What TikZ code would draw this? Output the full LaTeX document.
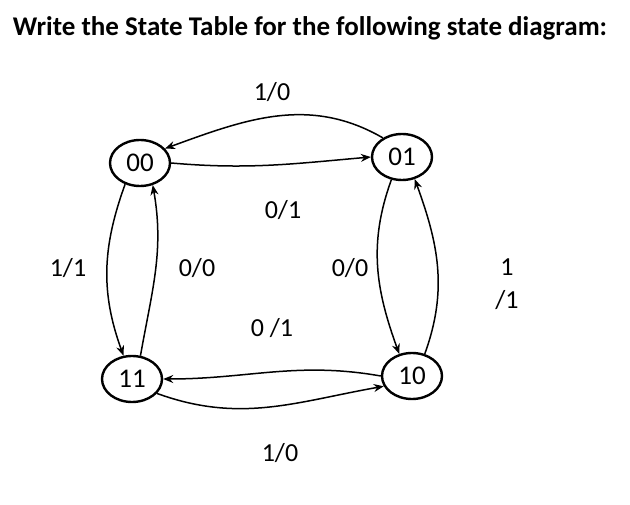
\documentclass[tikz,border=0pt]{standalone}
\usepackage{fontspec}
\setmainfont{Carlito}
\usetikzlibrary{arrows.meta,shapes.geometric}
\begin{document}
\begin{tikzpicture}[x=1pt,y=-1pt,
  st/.style={draw,line width=2.4pt,ellipse,minimum width=60pt,minimum height=46pt,inner sep=0pt,font=\fontsize{27}{27}\selectfont},
  lbl/.style={font=\fontsize{26}{26}\selectfont},
  ar/.style={-{Stealth[length=10pt,width=8pt]},line width=1.5pt}]
\useasboundingbox (0,0) rectangle (630,505);
\node[font=\bfseries\fontsize{27}{27}\selectfont] (t) at (310,28) {Write the State Table for the following state diagram:};
\node[st] (s00) at (140,163) {00};
\node[st] (s01) at (402,157) {01};
\node[st] (s11) at (132,379) {11};
\node[st] (s10) at (412,376) {10};
\draw[ar] (s01.135) to[out=150,in=20] (s00.30);
\draw[ar] (s00.east) to[out=-5,in=185] (s01.west);
\draw[ar] (s00.235) to[out=250,in=110] (s11.110);
\draw[ar] (s11.70) to[out=80,in=280] (s00.300);
\draw[ar] (s01.245) to[out=250,in=110] (s10.120);
\draw[ar] (s10.60) to[out=70,in=290] (s01.300);
\draw[ar] (s10.west) to[out=170,in=0] (s11.east);
\draw[ar] (s11.330) to[out=-20,in=190] (s10.200);
\node[lbl] (l1) at (272,92) {1/0};
\node[lbl] (l2) at (283,210) {0/1};
\node[lbl] (l3) at (68,268) {1/1};
\node[lbl] (l4) at (197,268) {0/0};
\node[lbl] (l5) at (350,268) {0/0};
\node[lbl] (l6) at (507,267) {1};
\node[lbl] (l7) at (507,300) {/1};
\node[lbl] (l8) at (272,328) {0 /1};
\node[lbl] (l9) at (280,453) {1/0};
\end{tikzpicture}
\end{document}
